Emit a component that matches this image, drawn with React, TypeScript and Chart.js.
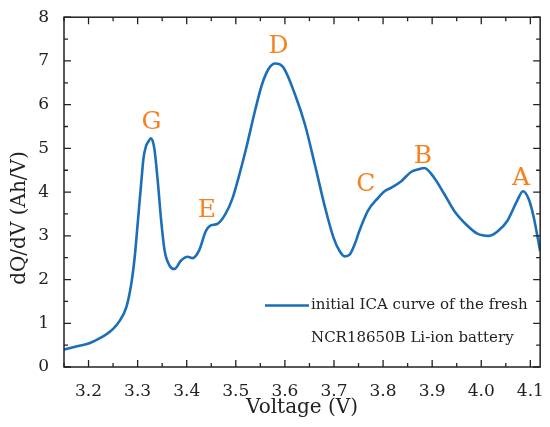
import React, { useEffect, useRef } from "react";
import { Chart, registerables } from "chart.js";

Chart.register(...registerables);

const seriesLabel = ["initial ICA curve of the fresh", "NCR18650B Li-ion battery"];

const voltage = [
  3.15, 3.175, 3.203, 3.225, 3.238, 3.25, 3.263, 3.277, 3.287, 3.294, 3.3, 3.307, 3.312, 3.317,
  3.322, 3.327, 3.334, 3.341, 3.348, 3.355, 3.365, 3.375, 3.388, 3.402, 3.412, 3.425, 3.439,
  3.449, 3.462, 3.479, 3.493, 3.506, 3.52, 3.54, 3.553, 3.567, 3.58, 3.597, 3.621, 3.641,
  3.661, 3.682, 3.699, 3.712, 3.722, 3.732, 3.742, 3.752, 3.769, 3.79, 3.803, 3.817, 3.837,
  3.857, 3.872, 3.884, 3.904, 3.925, 3.945, 3.972, 3.992, 4.016, 4.033, 4.053, 4.073, 4.085,
  4.097, 4.107, 4.12,
];
const dqdv = [
  0.4, 0.47, 0.55, 0.67, 0.76, 0.87, 1.05, 1.37, 1.9, 2.51, 3.27, 4.17, 4.78, 5.05,
  5.16, 5.23, 5.0, 4.25, 3.34, 2.66, 2.32, 2.24, 2.43, 2.52, 2.49, 2.66, 3.11,
  3.24, 3.27, 3.5, 3.85, 4.35, 4.95, 5.9, 6.45, 6.82, 6.94, 6.85, 6.22, 5.54,
  4.63, 3.64, 2.96, 2.64, 2.53, 2.57, 2.8, 3.12, 3.57, 3.87, 4.02, 4.1, 4.25,
  4.46, 4.52, 4.55, 4.33, 3.95, 3.57, 3.23, 3.05, 3.0, 3.1, 3.34, 3.8, 4.02,
  3.83, 3.42, 2.65,
];

const xTicks = [3.2, 3.3, 3.4, 3.5, 3.6, 3.7, 3.8, 3.9, 4.0, 4.1];
const xMinorTicks = [3.15, 3.25, 3.35, 3.45, 3.55, 3.65, 3.75, 3.85, 3.95, 4.05];
const yTicks = [0, 1, 2, 3, 4, 5, 6, 7, 8];
const yMinorTicks = [0.5, 1.5, 2.5, 3.5, 4.5, 5.5, 6.5, 7.5];

const peakNames = ["G", "E", "D", "C", "B", "A"];
const peakV = [3.328, 3.441, 3.587, 3.765, 3.881, 4.081];
const peakY = [5.59, 3.59, 7.34, 4.18, 4.82, 4.32];

const BLUE = "#1b6fb9";
const ORANGE = "#f5821f";
const FONT = "'DejaVu Serif', serif";

const overlay = {
  id: "overlay",
  afterDraw(chart: any) {
    const { ctx, chartArea: a, scales } = chart;
    const xs = scales.x;
    const ys = scales.y;
    ctx.save();
    ctx.strokeStyle = "#222";
    ctx.lineWidth = 1.5;
    ctx.strokeRect(a.left, a.top, a.right - a.left, a.bottom - a.top);
    ctx.lineWidth = 1.3;
    ctx.beginPath();
    const tickX = (v: number, len: number) => {
      const px = xs.getPixelForValue(v);
      ctx.moveTo(px, a.bottom);
      ctx.lineTo(px, a.bottom - len);
      ctx.moveTo(px, a.top);
      ctx.lineTo(px, a.top + len);
    };
    const tickY = (v: number, len: number) => {
      const py = ys.getPixelForValue(v);
      ctx.moveTo(a.left, py);
      ctx.lineTo(a.left + len, py);
      ctx.moveTo(a.right, py);
      ctx.lineTo(a.right - len, py);
    };
    xTicks.forEach((v) => tickX(v, 7));
    xMinorTicks.forEach((v) => tickX(v, 4));
    yTicks.forEach((v) => tickY(v, 7));
    yMinorTicks.forEach((v) => tickY(v, 4));
    ctx.stroke();

    ctx.fillStyle = ORANGE;
    ctx.font = `25px ${FONT}`;
    ctx.textAlign = "center";
    ctx.textBaseline = "middle";
    peakNames.forEach((n, i) => {
      ctx.fillText(n, xs.getPixelForValue(peakV[i]), ys.getPixelForValue(peakY[i]));
    });

    ctx.strokeStyle = BLUE;
    ctx.lineWidth = 2.5;
    ctx.beginPath();
    ctx.moveTo(265, 305.5);
    ctx.lineTo(309, 305.5);
    ctx.stroke();
    ctx.fillStyle = "#222";
    ctx.font = `15px ${FONT}`;
    ctx.textAlign = "left";
    ctx.fillText(seriesLabel[0], 311, 305);
    ctx.fillText(seriesLabel[1], 311, 338);

    ctx.font = `20px ${FONT}`;
    ctx.textAlign = "center";
    ctx.fillText("Voltage (V)", (a.left + a.right) / 2, 408);
    ctx.translate(20, 218);
    ctx.rotate(-Math.PI / 2);
    ctx.fillText("dQ/dV (Ah/V)", 0, 0);
    ctx.restore();
  },
};

export default function App() {
  const ref = useRef<HTMLCanvasElement | null>(null);
  useEffect(() => {
    if (!ref.current) return;
    const chart = new Chart(ref.current, {
      type: "line",
      data: {
        datasets: [
          {
            label: seriesLabel.join(" "),
            data: voltage.map((v, i) => ({ x: v, y: dqdv[i] })),
            borderColor: BLUE,
            borderWidth: 2.6,
            pointRadius: 0,
            fill: false,
            tension: 0.4,
            cubicInterpolationMode: "monotone",
          },
        ],
      },
      options: {
        animation: false,
        responsive: true,
        maintainAspectRatio: false,
        layout: { padding: { left: 0, top: 15, right: 7, bottom: 0 } },
        plugins: { legend: { display: false }, tooltip: { enabled: false } },
        scales: {
          x: {
            type: "linear",
            min: 3.15,
            max: 4.12,
            afterBuildTicks: (s: any) => {
              s.ticks = xTicks.map((v) => ({ value: v }));
            },
            afterFit: (s: any) => {
              s.height = 60;
            },
            grid: { display: false },
            border: { display: false },
            ticks: {
              autoSkip: false,
              maxRotation: 0,
              padding: 6,
              color: "#222",
              font: { family: FONT, size: 17 },
              callback: (v: any) => Number(v).toFixed(1),
            },
          },
          y: {
            type: "linear",
            min: 0,
            max: 8,
            afterBuildTicks: (s: any) => {
              s.ticks = yTicks.map((v) => ({ value: v }));
            },
            afterFit: (s: any) => {
              s.width = 64;
            },
            grid: { display: false },
            border: { display: false },
            ticks: {
              padding: 7,
              color: "#222",
              font: { family: FONT, size: 17 },
            },
          },
        },
      },
      plugins: [overlay],
    });
    return () => chart.destroy();
  }, []);
  return (
    <div style={{ position: "absolute", left: 0, top: 0, width: 550, height: 427, background: "#fff" }}>
      <canvas ref={ref} />
    </div>
  );
}
